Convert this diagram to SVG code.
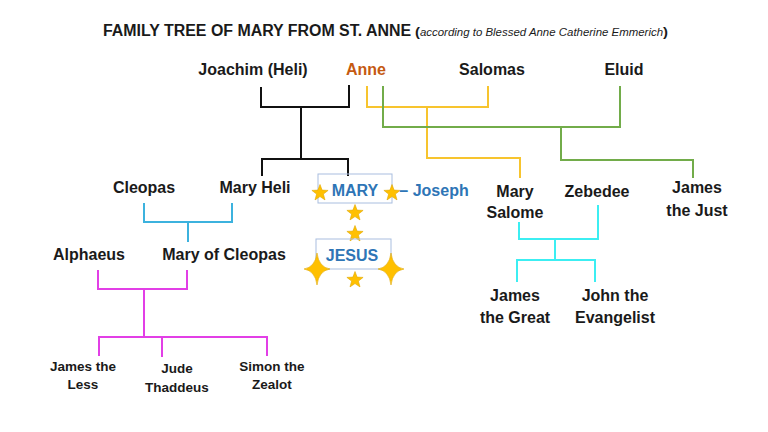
<svg xmlns="http://www.w3.org/2000/svg" width="768" height="432" viewBox="0 0 768 432">
<defs>
<style>
text{font-family:"Liberation Sans",Arial,sans-serif;font-weight:bold;fill:#1a1a1a;text-anchor:middle}
.n{font-size:16px}
.s{font-size:13.5px}
.blue{fill:#2E75B6}
.line{fill:none;stroke-width:2;stroke-linejoin:miter;stroke-linecap:butt}
.k{stroke:#111}
.y{stroke:#F7C42E}
.g{stroke:#72AC4A}
.lb{stroke:#3CB2DE}
.c{stroke:#3CEEF2}
.m{stroke:#E23FE6}
.box{fill:none;stroke:#A9BEDF;stroke-width:1}
.star{fill:#FFC000;stroke:#E0A800;stroke-width:0.6}
</style>
<path id="st5" d="M0,-8.5 L2.1,-2.9 L8.1,-2.6 L3.4,1.1 L5,6.9 L0,3.6 L-5,6.9 L-3.4,1.1 L-8.1,-2.6 L-2.1,-2.9Z"/>
<path id="st4" d="M0,-16 Q1.8,-1.8 13,0 Q1.8,1.8 0,16 Q-1.8,1.8 -13,0 Q-1.8,-1.8 0,-16Z"/>
</defs>
<rect width="768" height="432" fill="#fff"/>
<g id="title">
<text x="103" y="36" style="text-anchor:start;font-size:16px" textLength="308" lengthAdjust="spacingAndGlyphs">FAMILY TREE OF MARY FROM ST. ANNE</text>
<text x="415" y="36" style="text-anchor:start;font-size:10px;font-weight:normal" textLength="253" lengthAdjust="spacingAndGlyphs"><tspan style="font-size:13px;font-weight:bold">(</tspan><tspan style="font-style:italic">according to Blessed  Anne Catherine Emmerich</tspan><tspan style="font-size:13px;font-weight:bold">)</tspan></text>
</g>
<g id="connectors">
<path class="line k" d="M261,87 V107 H349 V85 M301,107 V159 M262,176 V159 H348 V176"/>
<path class="line y" d="M367,86 V107 H488 V86 M427,107 V158 H520 V178"/>
<path class="line g" d="M383,86 V127 H620 V86 M561,127 V160 H693 V178"/>
<path class="line lb" d="M144,203 V222 H232 V203 M188,222 V242"/>
<path class="line m" d="M98,270 V289 H187 V270 M144,289 V337 M99,356 V337 H267 V356 M162,337 V357"/>
<path class="line c" d="M519,222 V239 H598 V205 M555,239 V260 M517,282 V260 H595 V282"/>
</g>
<g id="joachim"><text class="n" x="253" y="75">Joachim (Heli)</text></g>
<g id="anne"><text class="n" x="366" y="75" style="fill:#C55A11">Anne</text></g>
<g id="salomas"><text class="n" x="492" y="75">Salomas</text></g>
<g id="eluid"><text class="n" x="624" y="75">Eluid</text></g>
<g id="cleopas"><text class="n" x="144" y="193">Cleopas</text></g>
<g id="mary-heli"><text class="n" x="255" y="193">Mary Heli</text></g>
<g id="mary">
<rect class="box" x="318" y="174" width="74" height="29"/>
<text class="n blue" x="355" y="196">MARY</text>
<use href="#st5" class="star" x="320" y="193"/>
<use href="#st5" class="star" x="392" y="193"/>
</g>
<g id="joseph"><text class="n blue" x="434" y="196">– Joseph</text></g>
<g id="stars-between">
<use href="#st5" class="star" x="355" y="213"/>
<use href="#st5" class="star" x="355" y="234"/>
</g>
<g id="jesus">
<rect class="box" x="316" y="239" width="75" height="30"/>
<text class="n blue" x="352" y="261">JESUS</text>
<use href="#st4" class="star" x="317" y="269"/>
<use href="#st4" class="star" x="391" y="269"/>
<use href="#st5" class="star" x="355" y="280"/>
</g>
<g id="alphaeus"><text class="n" x="89" y="260">Alphaeus</text></g>
<g id="mary-cleopas"><text class="n" x="224" y="260">Mary of Cleopas</text></g>
<g id="mary-salome"><text class="n" x="515" y="197">Mary</text><text class="n" x="515" y="218">Salome</text></g>
<g id="zebedee"><text class="n" x="597" y="197">Zebedee</text></g>
<g id="james-just"><text class="n" x="697" y="193">James</text><text class="n" x="697" y="216">the Just</text></g>
<g id="james-great"><text class="n" x="515" y="301">James</text><text class="n" x="515" y="323">the Great</text></g>
<g id="john"><text class="n" x="615" y="301">John the</text><text class="n" x="615" y="323">Evangelist</text></g>
<g id="james-less"><text class="s" x="83" y="371">James the</text><text class="s" x="83" y="389">Less</text></g>
<g id="jude"><text class="s" x="177" y="373">Jude</text><text class="s" x="177" y="392">Thaddeus</text></g>
<g id="simon"><text class="s" x="272" y="371">Simon the</text><text class="s" x="272" y="389">Zealot</text></g>
</svg>
